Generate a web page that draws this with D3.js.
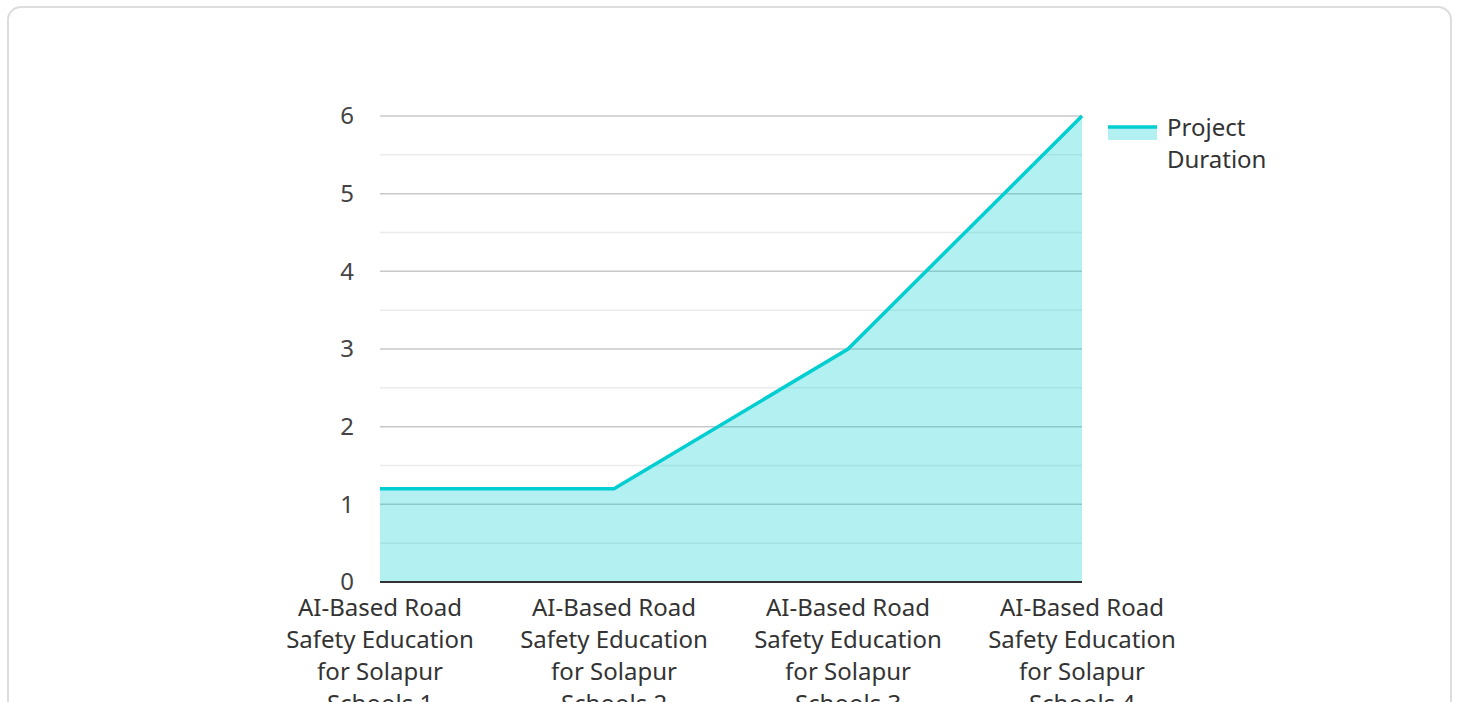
<!DOCTYPE html>
<html>
<head>
<meta charset="utf-8">
<script src="https://cdn.jsdelivr.net/npm/d3@7"></script>
<style>
  body { margin: 0; background: #fff; font-family: "Noto Sans", sans-serif; }
  .card { position: absolute; left: 7px; top: 6px; width: 1445px; height: 710px;
          border: 2px solid #ddd; border-radius: 14px; box-sizing: border-box; }
  svg { position: absolute; left: 0; top: 0; }
</style>
</head>
<body>
<div class="card"></div>
<div id="chart_placeholder"></div>
<script>
var categories = [
  "AI-Based Road Safety Education for Solapur Schools 1",
  "AI-Based Road Safety Education for Solapur Schools 2",
  "AI-Based Road Safety Education for Solapur Schools 3",
  "AI-Based Road Safety Education for Solapur Schools 4"
];
var durations = [1.2, 1.2, 3, 6];
var yTicks = [0, 1, 2, 3, 4, 5, 6];
var seriesName = ["Project", "Duration"];
var labelLines = [
  ["AI-Based Road", "Safety Education", "for Solapur", "Schools 1"],
  ["AI-Based Road", "Safety Education", "for Solapur", "Schools 2"],
  ["AI-Based Road", "Safety Education", "for Solapur", "Schools 3"],
  ["AI-Based Road", "Safety Education", "for Solapur", "Schools 4"]
];

var color = "#00ced1";
var margin = {top: 116, left: 380},
    width = 702,
    height = 466;

var svg = d3.select("#chart_placeholder")
  .append("svg")
  .attr("width", 1458)
  .attr("height", 702)
  .append("g")
  .attr("transform", "translate(" + margin.left + "," + margin.top + ")");

var x = d3.scalePoint().domain(categories).range([0, width]);
var y = d3.scaleLinear().domain([0, 6]).range([height, 0]);

var data = categories.map(function(c, i) { return {cat: c, value: durations[i]}; });

// minor grid (half steps)
var minor = d3.range(0.5, 6, 1);
svg.selectAll(".minor")
  .data(minor)
  .enter().append("line")
  .attr("x1", 0).attr("x2", width)
  .attr("y1", function(d) { return y(d); })
  .attr("y2", function(d) { return y(d); })
  .attr("stroke", "#ebebeb")
  .attr("stroke-width", 1.5);

svg.selectAll(".major")
  .data(yTicks.slice(1))
  .enter().append("line")
  .attr("x1", 0).attr("x2", width)
  .attr("y1", function(d) { return y(d); })
  .attr("y2", function(d) { return y(d); })
  .attr("stroke", "#c8c8c8")
  .attr("stroke-width", 1.5);

var area = d3.area()
  .x(function(d) { return x(d.cat); })
  .y0(height)
  .y1(function(d) { return y(d.value); });

var line = d3.line()
  .x(function(d) { return x(d.cat); })
  .y(function(d) { return y(d.value); });

svg.append("path")
  .datum(data)
  .attr("fill", color)
  .attr("fill-opacity", 0.3)
  .attr("d", area);

svg.append("path")
  .datum(data)
  .attr("fill", "none")
  .attr("stroke", color)
  .attr("stroke-width", 3.5)
  .attr("d", line);

// x axis line
svg.append("line")
  .attr("x1", 0).attr("x2", width)
  .attr("y1", height).attr("y2", height)
  .attr("stroke", "#333")
  .attr("stroke-width", 2);

// y labels
svg.selectAll(".ylab")
  .data(yTicks)
  .enter().append("text")
  .attr("x", -26)
  .attr("y", function(d) { return y(d); })
  .attr("dy", "0.35em")
  .attr("text-anchor", "end")
  .attr("font-size", 24)
  .attr("fill", "#444")
  .text(function(d) { return d; });

// x labels
var xl = svg.selectAll(".xlab")
  .data(categories)
  .enter().append("text")
  .attr("text-anchor", "middle")
  .attr("font-size", 24)
  .attr("fill", "#333")
  .attr("transform", function(d) { return "translate(" + x(d) + "," + (height + 34) + ")"; });

xl.selectAll("tspan")
  .data(function(d, i) { return labelLines[i]; })
  .enter().append("tspan")
  .attr("x", 0)
  .attr("y", function(d, j) { return j * 32; })
  .text(function(d) { return d; });

// legend
var lg = svg.append("g").attr("transform", "translate(" + (width + 26) + ",0)");
lg.append("rect")
  .attr("x", 0).attr("y", 11)
  .attr("width", 49).attr("height", 13)
  .attr("fill", color).attr("fill-opacity", 0.3);
lg.append("line")
  .attr("x1", 0).attr("x2", 49)
  .attr("y1", 11).attr("y2", 11)
  .attr("stroke", color).attr("stroke-width", 3.5);
lg.append("text")
  .attr("font-size", 24)
  .attr("fill", "#333")
  .selectAll("tspan")
  .data(seriesName)
  .enter().append("tspan")
  .attr("x", 59)
  .attr("y", function(d, i) { return 20 + i * 32; })
  .text(function(d) { return d; });
</script>
</body>
</html>
